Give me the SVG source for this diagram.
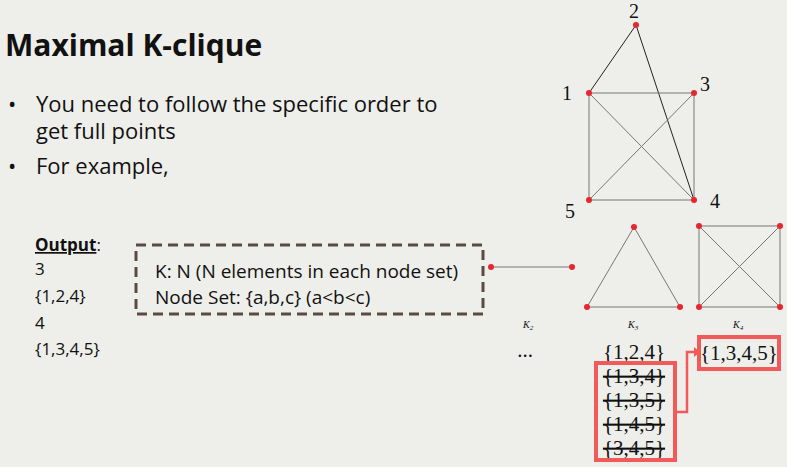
<svg xmlns="http://www.w3.org/2000/svg" width="787" height="467" viewBox="0 0 787 467">
<style>
.t{font-family:"Open Sans","Noto Sans",sans-serif;fill:#111}
.s{font-family:"Liberation Serif",serif;fill:#111}
.e{stroke:#777;stroke-width:1;fill:none}
.d{fill:#e8262e}
.r{fill:none;stroke:#f25a5a;stroke-width:4}
</style>
<rect width="787" height="467" fill="#eeeeea"/>
<text class="t" x="5" y="56" font-size="30" font-weight="bold">Maximal K-clique</text>
<g class="t" font-size="22">
<text x="8" y="112">•</text><text x="36" y="112">You need to follow the specific order to</text>
<text x="36" y="139">get full points</text>
<text x="8" y="174">•</text><text x="36" y="174">For example,</text>
</g>
<g class="t" font-size="17">
<text x="35" y="251"><tspan font-weight="bold" text-decoration="underline">Output</tspan>:</text>
<text x="35" y="275">3</text><text x="35" y="302">{1,2,4}</text><text x="35" y="329">4</text><text x="35" y="355">{1,3,4,5}</text>
</g>
<g id="legend">
<rect x="136" y="245" width="347" height="69" fill="none" stroke="#5b4a42" stroke-width="3" stroke-dasharray="10,6"/>
<text class="t" x="155" y="278" font-size="19">K: N (N elements in each node set)</text>
<text class="t" x="155" y="304" font-size="19">Node Set: {a,b,c} (a&lt;b&lt;c)</text>
</g>
<g id="connectors">
<g class="e" stroke="#555">
<line x1="636" y1="25" x2="589" y2="93" stroke="#222"/><line x1="636" y1="25" x2="694" y2="200" stroke="#222"/>
<rect x="589" y="93" width="105" height="107"/>
<line x1="589" y1="93" x2="694" y2="200"/><line x1="694" y1="93" x2="589" y2="200"/>
<line x1="491" y1="267" x2="572" y2="267"/>
<polygon points="634,227 587,307 680,307"/>
<rect x="699" y="226" width="81" height="81"/>
<line x1="699" y1="226" x2="780" y2="307"/><line x1="780" y1="226" x2="699" y2="307"/>
</g>
<polyline points="675,412 687,412 687,352 694,352" fill="none" stroke="#f25a5a" stroke-width="2.5"/>
<polygon points="694,347 700,352 694,357" fill="#f25a5a"/>
</g>
<g id="graph">
<g class="d"><circle cx="636" cy="25" r="3"/><circle cx="589" cy="93" r="3"/><circle cx="694" cy="93" r="3"/><circle cx="589" cy="200" r="3"/><circle cx="694" cy="200" r="3"/></g>
<g class="s" font-size="20"><text x="629" y="18">2</text><text x="562" y="100">1</text><text x="700" y="91">3</text><text x="565" y="218">5</text><text x="710" y="208">4</text></g>
</g>
<g id="k2"><circle class="d" cx="491" cy="267" r="3"/><circle class="d" cx="572" cy="267" r="3"/><text class="s" x="523" y="328" font-size="10" font-style="italic">K<tspan font-size="7" dy="2">2</tspan></text></g>
<g id="k3"><circle class="d" cx="634" cy="227" r="3"/><circle class="d" cx="587" cy="307" r="3"/><circle class="d" cx="680" cy="307" r="3"/><text class="s" x="628" y="328" font-size="10" font-style="italic">K<tspan font-size="7" dy="2">3</tspan></text></g>
<g id="k4"><circle class="d" cx="699" cy="226" r="3"/><circle class="d" cx="780" cy="226" r="3"/><circle class="d" cx="699" cy="307" r="3"/><circle class="d" cx="780" cy="307" r="3"/><text class="s" x="733" y="328" font-size="10" font-style="italic">K<tspan font-size="7" dy="2">4</tspan></text></g>
<g id="sets" class="s" font-size="21" text-anchor="middle">
<text x="525" y="357">...</text>
<text x="634" y="359">{1,2,4}</text>
<g text-decoration="line-through"><text x="634" y="383">{1,3,4}</text><text x="634" y="407">{1,3,5}</text><text x="634" y="431">{1,4,5}</text><text x="634" y="455">{3,4,5}</text></g>
<rect class="r" x="596" y="363" width="79" height="97"/>
<rect class="r" x="699" y="337" width="80" height="32"/>
<text x="739" y="360">{1,3,4,5}</text>
</g>
</svg>
